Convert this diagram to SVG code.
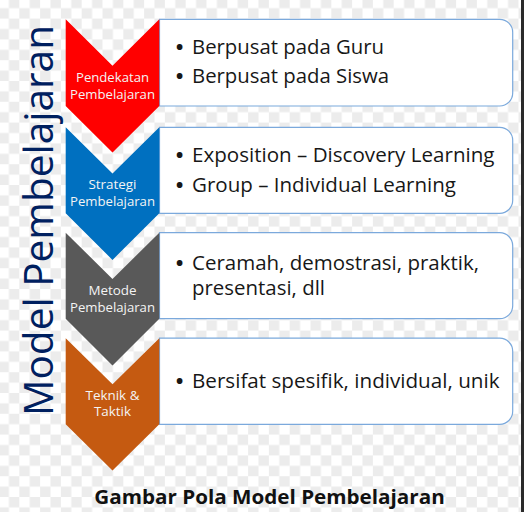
<svg xmlns="http://www.w3.org/2000/svg" width="524" height="512" viewBox="0 0 524 512">
  <defs>
    <pattern id="checker" patternUnits="userSpaceOnUse" x="-1.5" y="-2.2" width="20.8" height="20.8">
      <rect x="0" y="0" width="20.8" height="20.8" fill="#ffffff"/>
      <rect x="10.4" y="0" width="10.4" height="10.4" fill="#ececec"/>
      <rect x="0" y="10.4" width="10.4" height="10.4" fill="#ececec"/>
    </pattern>
    <style>
      .box { fill: #ffffff; stroke: #7ba9dc; stroke-width: 1.2; }
      .btxt { font-family: "Open Sans", "DejaVu Sans", sans-serif; font-size: 20.4px; fill: #171717; }
      .bul { font-family: "Open Sans", "DejaVu Sans", sans-serif; font-size: 20.4px; font-weight: bold; fill: #171717; text-anchor: middle; }
      .ctxt { font-family: "Open Sans", "DejaVu Sans", sans-serif; font-size: 13.4px; fill: #f4f4f4; text-anchor: middle; }
      .title { font-family: "Open Sans", "DejaVu Sans", sans-serif; font-size: 40.5px; fill: #002060; }
      .caption { font-family: "Open Sans", "DejaVu Sans", sans-serif; font-size: 19px; font-weight: bold; fill: #111111; }
    </style>
  </defs>

  <rect x="0" y="0" width="524" height="512" fill="url(#checker)"/>
  <rect x="521" y="0" width="3" height="512" fill="#2a2a2a"/>

  <text class="title" transform="translate(53.3,416) rotate(-90)" x="0" y="0" textLength="391" lengthAdjust="spacingAndGlyphs">Model Pembelajaran</text>

  <g id="connectors"></g>

  <g id="node-pendekatan">
    <path class="box" d="M159.5,19.3 H499.7 A13,13 0 0 1 512.7,32.3 V93 A13,13 0 0 1 499.7,106 H159.5 Z"/>
    <polygon points="65.7,19.3 112.5,65.8 159.3,19.3 159.3,106 112.5,152.6 65.7,106" fill="#ff0000"/>
    <text class="ctxt" x="112.5" y="81.7" textLength="73" lengthAdjust="spacingAndGlyphs">Pendekatan</text>
    <text class="ctxt" x="112.5" y="98.7" textLength="85" lengthAdjust="spacingAndGlyphs">Pembelajaran</text>
    <text class="bul" x="179.5" y="54.3">•</text>
    <text class="btxt" x="192" y="54.3" textLength="192" lengthAdjust="spacingAndGlyphs">Berpusat pada Guru</text>
    <text class="bul" x="179.5" y="83.3">•</text>
    <text class="btxt" x="192" y="83.3" textLength="197" lengthAdjust="spacingAndGlyphs">Berpusat pada Siswa</text>
  </g>

  <g id="node-strategi">
    <path class="box" d="M159.5,127.3 H499.7 A13,13 0 0 1 512.7,140.3 V200.3 A13,13 0 0 1 499.7,213.3 H159.5 Z"/>
    <polygon points="65.7,127.3 112.5,173.6 159.3,127.3 159.3,213.3 112.5,259.9 65.7,213.3" fill="#0070c0"/>
    <text class="ctxt" x="112.5" y="189" textLength="48" lengthAdjust="spacingAndGlyphs">Strategi</text>
    <text class="ctxt" x="112.5" y="205.5" textLength="85" lengthAdjust="spacingAndGlyphs">Pembelajaran</text>
    <text class="bul" x="179.5" y="162.3">•</text>
    <text class="btxt" x="192" y="162.3" textLength="302.5" lengthAdjust="spacingAndGlyphs">Exposition – Discovery Learning</text>
    <text class="bul" x="179.5" y="191.7">•</text>
    <text class="btxt" x="192" y="191.7" textLength="264" lengthAdjust="spacingAndGlyphs">Group – Individual Learning</text>
  </g>

  <g id="node-metode">
    <path class="box" d="M159.5,232.7 H499.7 A13,13 0 0 1 512.7,245.7 V305.7 A13,13 0 0 1 499.7,318.7 H159.5 Z"/>
    <polygon points="65.7,232.7 112.5,279 159.3,232.7 159.3,318.7 112.5,365.5 65.7,318.7" fill="#595959"/>
    <text class="ctxt" x="112.5" y="295.3">Metode</text>
    <text class="ctxt" x="112.5" y="311.8" textLength="85" lengthAdjust="spacingAndGlyphs">Pembelajaran</text>
    <text class="bul" x="179.5" y="269.5">•</text>
    <text class="btxt" x="192" y="269.5" textLength="287" lengthAdjust="spacingAndGlyphs">Ceramah, demostrasi, praktik,</text>
    <text class="btxt" x="192" y="295.3" textLength="133" lengthAdjust="spacingAndGlyphs">presentasi, dll</text>
  </g>

  <g id="node-teknik">
    <path class="box" d="M159.5,338.2 H499.7 A13,13 0 0 1 512.7,351.2 V411.3 A13,13 0 0 1 499.7,424.3 H159.5 Z"/>
    <polygon points="65.7,338.2 112.5,384.2 159.3,338.2 159.3,424.3 112.5,470.5 65.7,424.3" fill="#c55a11"/>
    <text class="ctxt" x="112.5" y="399.5">Teknik &amp;</text>
    <text class="ctxt" x="112.5" y="416">Taktik</text>
    <text class="bul" x="179.5" y="387.7">•</text>
    <text class="btxt" x="192" y="387.7" textLength="307.5" lengthAdjust="spacingAndGlyphs">Bersifat spesifik, individual, unik</text>
  </g>

  <text class="caption" x="94.3" y="504.3" textLength="350.4" lengthAdjust="spacingAndGlyphs">Gambar Pola Model Pembelajaran</text>
</svg>
